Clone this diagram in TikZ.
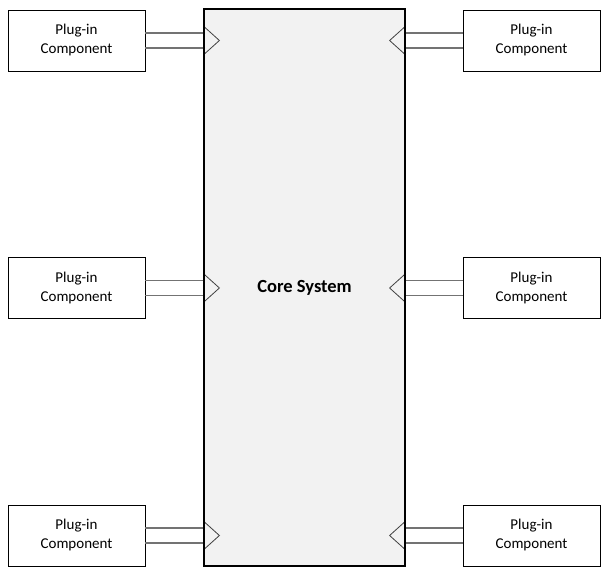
\documentclass[tikz,border=0pt]{standalone}
\usepackage{fontspec}
\setmainfont{Carlito}
\usetikzlibrary{positioning}

\tikzset{
  plugin/.style={draw=black, line width=0.8pt, fill=white, minimum width=137pt,
    minimum height=61pt, align=center, inner sep=0pt,
    font=\fontsize{15}{19}\selectfont},
  core/.style={fill=black!5, minimum width=201pt, minimum height=557pt,
    inner sep=0pt, font=\fontsize{18.5}{22}\selectfont\bfseries},
  coreline/.style={draw=black, line width=1.8pt},
  stem/.style={draw=black!55, line width=1.2pt},
  head/.style={draw=black!75, line width=0.8pt, line join=miter}
}

\begin{document}
\begin{tikzpicture}[x=1pt, y=1pt]
  \useasboundingbox (0,0) rectangle (608,576);

  \node[core] (core) at (304.5,288.5) {Core System};

  % plug-in boxes on both sides
  \foreach \n/\y in {1/535.5, 2/288, 3/40.5} {
    \node[plugin] (l\n) at (76.5,\y)  {Plug-in\\Component};
    \node[plugin] (r\n) at (531.5,\y) {Plug-in\\Component};

    % left arrows into the core
    \draw[stem] (l\n.east) ++(0,7.5)  -- ++(59,0);
    \draw[stem] (l\n.east) ++(0,-7.5) -- ++(59,0);
    \draw[head] (l\n.east) ++(59,13.5) -- ++(15,-13.5) -- ++(-15,-13.5);

    % right arrows into the core
    \draw[stem] (r\n.west) ++(0,7.5)  -- ++(-58,0);
    \draw[stem] (r\n.west) ++(0,-7.5) -- ++(-58,0);
    \draw[head] (r\n.west) ++(-58,13.5) -- ++(-15,-13.5) -- ++(15,-13.5);
  }

  \draw[coreline] (core.south west) rectangle (core.north east);
\end{tikzpicture}
\end{document}
